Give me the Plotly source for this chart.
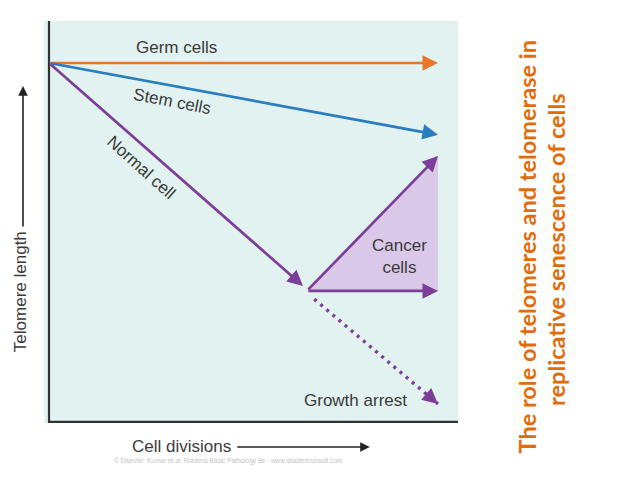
import plotly.graph_objects as go

# ---- data (abstract units: x = cell divisions, y = telomere length) ----
start_point = [0.0, 10.0]
germ_end = [10.0, 10.0]
stem_end = [10.0, 8.0]
normal_end = [6.53, 3.79]
cancer_origin = [6.63, 3.65]
cancer_up_end = [10.0, 7.41]
cancer_flat_end = [10.0, 3.65]
arrest_x = [6.82, 10.0]
arrest_y = [3.42, 0.5]
triangle_x = [cancer_origin[0], cancer_up_end[0], cancer_flat_end[0], cancer_origin[0]]
triangle_y = [cancer_origin[1], cancer_up_end[1], cancer_flat_end[1], cancer_origin[1]]

labels = ["Germ cells", "Stem cells", "Normal cell", "Cancer<br>cells", "Growth arrest"]
label_x = [3.29, 3.16, 2.37, 9.0, 7.87]
label_y = [10.42, 8.94, 7.10, 4.6, 0.61]
label_angle = [0, 11, 42, 0, 0]

title_lines = ["The role of telomeres and telomerase in", "replicative senescence of cells"]
x_title = "Cell divisions"
y_title = "Telomere length"
credit = "© Elsevier. Kumar et al: Robbins Basic Pathology 8e - www.studentconsult.com"

ORANGE = "#e8772a"
BLUE = "#2a7dbf"
PURPLE = "#7b3f99"
TEXT = "#3a3a3a"
TITLE_ORANGE = "#e36c0a"

fig = go.Figure()

# cancer triangle fill
fig.add_trace(go.Scatter(x=triangle_x, y=triangle_y, mode="lines", fill="toself",
                         fillcolor="#d9c8e7", line=dict(width=0), hoverinfo="skip"))
# dotted growth-arrest line
fig.add_trace(go.Scatter(x=arrest_x, y=arrest_y, mode="lines",
                         line=dict(color=PURPLE, width=3.4, dash="3px,5px"), hoverinfo="skip"))

annotations = []

def arrow(tail, head, color):
    annotations.append(dict(x=head[0], y=head[1], ax=tail[0], ay=tail[1],
                            xref="x", yref="y", axref="x", ayref="y", text="",
                            showarrow=True, arrowhead=2, arrowsize=1.15, arrowwidth=2.7,
                            arrowcolor=color, standoff=0, startstandoff=0))

arrow(start_point, germ_end, ORANGE)
arrow(start_point, stem_end, BLUE)
arrow(start_point, normal_end, PURPLE)
arrow(cancer_origin, cancer_up_end, PURPLE)
arrow(cancer_origin, cancer_flat_end, PURPLE)
# arrowhead of dotted line
annotations.append(dict(x=arrest_x[1], y=arrest_y[1], ax=-7.6, ay=-6.5, xref="x", yref="y",
                        text="", showarrow=True, arrowhead=2, arrowsize=1.15, arrowwidth=2.7,
                        arrowcolor=PURPLE, standoff=0))

for t, lx, ly, ang in zip(labels, label_x, label_y, label_angle):
    annotations.append(dict(x=lx, y=ly, xref="x", yref="y", text=t, showarrow=False,
                            xanchor="center", yanchor="middle", textangle=ang,
                            font=dict(family="Liberation Sans, Arial", size=17, color=TEXT)))

C = dict(xanchor="center", yanchor="middle")
# axis titles with arrows
annotations.append(dict(x=-0.058, y=0.328, xref="paper", yref="paper", text=y_title, showarrow=False,
                        textangle=-90, font=dict(family="Liberation Sans, Arial", size=17, color=TEXT), **C))
annotations.append(dict(x=-0.0507, y=0.838, xref="paper", yref="paper", text="", showarrow=True,
                        ax=0, ay=142, arrowhead=2, arrowsize=1.2, arrowwidth=1.6, arrowcolor="#222"))
annotations.append(dict(x=0.333, y=-0.0597, xref="paper", yref="paper", text=x_title, showarrow=False,
                        font=dict(family="Liberation Sans, Arial", size=17, color=TEXT), **C))
annotations.append(dict(x=0.787, y=-0.0597, xref="paper", yref="paper", text="", showarrow=True,
                        ax=-134, ay=0, arrowhead=2, arrowsize=1.2, arrowwidth=1.6, arrowcolor="#222"))
annotations.append(dict(x=0.444, y=-0.094, xref="paper", yref="paper", text=credit, showarrow=False,
                        font=dict(family="Liberation Sans, Arial", size=6.5, color="#c4c4c4"), **C))

# title (vertical)
annotations.append(dict(x=1.1667, y=0.4366, xref="paper", yref="paper", text=title_lines[0], showarrow=False,
                        textangle=-90, font=dict(family="Lato", size=23.5, color=TITLE_ORANGE, weight="bold"), **C))
annotations.append(dict(x=1.2367, y=0.433, xref="paper", yref="paper", text=title_lines[1], showarrow=False,
                        textangle=-90, font=dict(family="Lato", size=23.5, color=TITLE_ORANGE, weight="bold"), **C))

shapes = [
    dict(type="line", xref="x", yref="paper", x0=0, x1=0, y0=0.0, y1=1, line=dict(color="#333", width=2.2)),
    dict(type="line", xref="x", yref="y", x0=0, x1=10.514, y0=0, y1=0, line=dict(color="#333", width=2.2)),
]

fig.update_layout(
    width=630, height=470,
    margin=dict(l=36, r=180, t=13, b=55),
    paper_bgcolor="white", plot_bgcolor="#e1f2f0",
    showlegend=False,
    xaxis=dict(range=[-0.1285, 10.514], showgrid=False, zeroline=False, showticklabels=False, ticks=""),
    yaxis=dict(range=[-0.03, 11.17], showgrid=False, zeroline=False, showticklabels=False, ticks=""),
    annotations=annotations, shapes=shapes,
)

fig.write_html("out.html")
